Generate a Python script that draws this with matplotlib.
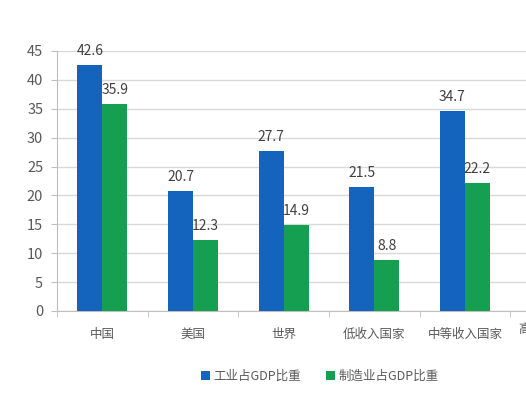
import matplotlib.pyplot as plt
import numpy as np

plt.rcParams['font.family'] = ['Noto Sans CJK SC', 'DejaVu Sans']

categories = ["中国", "美国", "世界", "低收入国家", "中等收入国家"]
industry = [42.6, 20.7, 27.7, 21.5, 34.7]
manufacturing = [35.9, 12.3, 14.9, 8.8, 22.2]
series_names = ["工业占GDP比重", "制造业占GDP比重"]
cut_label = "高收入国家"

blue = "#1464be"
green = "#14a050"
grid_c = "#d9d9d9"
axis_c = "#bfbfbf"
text_c = "#595959"

fig = plt.figure(figsize=(5.26, 3.93), dpi=100)
ax = fig.add_axes([57 / 526, 1 - 311 / 393, 469 / 526, 260 / 393])

x = np.arange(len(categories))
w = 0.276
b1 = ax.bar(x - w / 2, industry, w, color=blue, label=series_names[0], zorder=3)
b2 = ax.bar(x + w / 2, manufacturing, w, color=green, label=series_names[1], zorder=3)

for bars in (b1, b2):
    for r in bars:
        ax.annotate(f"{r.get_height():.1f}", (r.get_x() + r.get_width() / 2, r.get_height()),
                    xytext=(0, 5), textcoords="offset points", ha="center", va="bottom",
                    fontsize=10, color="#404040")

ax.set_xlim(-0.5, 4.674)
ax.set_ylim(0, 45)
ax.set_yticks(range(0, 46, 5))
ax.yaxis.grid(True, color=grid_c, linewidth=1, zorder=0)
ax.set_axisbelow(True)

ax.set_xticks(x)
ax.set_xticklabels(categories)
ax.set_xticks(np.arange(-0.5, 5, 1), minor=True)
ax.tick_params(axis="x", which="major", length=0, pad=12, labelsize=9, labelcolor=text_c)
ax.tick_params(axis="x", which="minor", length=4, color=axis_c, direction="out")
ax.tick_params(axis="y", length=4, color=axis_c, labelsize=10.5, labelcolor=text_c, pad=6)

for s in ("top", "right"):
    ax.spines[s].set_visible(False)
ax.spines["left"].set_color(axis_c)
ax.spines["bottom"].set_color(axis_c)

# sixth category, cut off by the picture edge
fig.text(518 / 526, 1 - 330 / 393, cut_label, fontsize=9, color=text_c, ha="left", va="center")

fig.legend(handles=[b1, b2], loc="center", bbox_to_anchor=(320 / 526, 1 - 376 / 393),
           ncol=2, frameon=False, fontsize=9, labelcolor=text_c, handlelength=0.7,
           handleheight=0.7, handletextpad=0.3, columnspacing=2.0)

fig.savefig("out.png", dpi=100)
